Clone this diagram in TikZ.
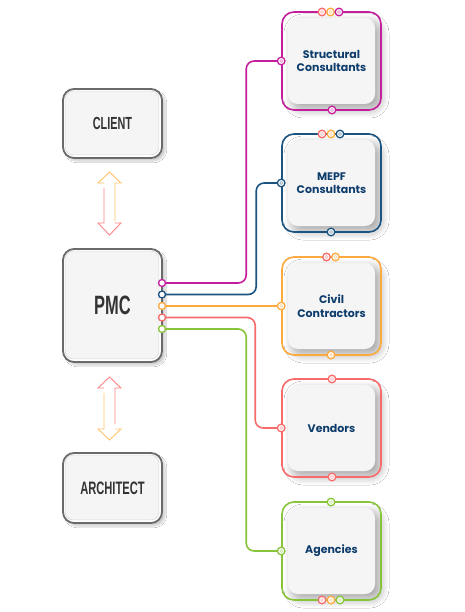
\documentclass[tikz,border=0pt]{standalone}
\usepackage{fontspec}
\usetikzlibrary{shadows.blur}
\newfontfamily\popfont{Poppins}[BoldFont={Poppins Bold}]
\newfontfamily\condfont{Liberation Sans}[FakeStretch=0.62]
\definecolor{cmag}{HTML}{C41E9C}
\definecolor{cblue}{HTML}{1B5381}
\definecolor{corg}{HTML}{FDA93E}
\definecolor{cred}{HTML}{F86B6B}
\definecolor{cgrn}{HTML}{88C43A}
\definecolor{navy}{HTML}{0E3D6C}
\definecolor{gline}{HTML}{6A6A6A}
\definecolor{boxbg}{HTML}{F5F5F5}
\definecolor{ltxt}{HTML}{333333}
\definecolor{aorg}{HTML}{FFC36E}
\definecolor{ared}{HTML}{FF8585}
\tikzset{
  rbox/.style={draw=#1, line width=1.6pt, rounded corners=12pt, minimum width=99pt, minimum height=98pt, inner sep=0pt},
  rin/.style={fill=boxbg, rounded corners=10pt, minimum width=87pt, minimum height=86pt, inner sep=0pt,
    blur shadow={shadow xshift=5pt, shadow yshift=-5pt, shadow opacity=38, shadow blur steps=20, shadow blur radius=9pt},
    align=center, font=\popfont\bfseries\fontsize{11}{13.5}\selectfont, text=navy},
  ring/.style={circle, draw=#1, line width=1.3pt, fill=white, minimum size=7.6pt, inner sep=0pt,
    path picture={\draw[#1!55, line width=0.6pt] (path picture bounding box.center) circle (1.5pt);}},
  pdot/.style={circle, draw=#1, line width=1.3pt, fill=white, minimum size=7pt, inner sep=0pt},
  link/.style={draw=#1, line width=1.6pt, rounded corners=8pt},
  lbox/.style={draw=gline, line width=1.8pt, fill=white, rounded corners=11pt, minimum width=99pt, inner sep=0pt,
    blur shadow={shadow xshift=3pt, shadow yshift=-3pt, shadow opacity=20, shadow blur steps=8}},
  ltext/.style={text=ltxt, font=\condfont\bfseries},
  arrowpart/.style={draw=#1, line width=0.9pt, line join=miter},
}
\begin{document}
\begin{tikzpicture}[x=1pt,y=-1pt]
\fill[white] (0,0) rectangle (464,612);
\useasboundingbox (0,0) rectangle (464,612);

% ---------- left boxes ----------
\node[lbox, minimum height=69pt] (client) at (112.5,123.5) {};
\node[lbox, minimum height=113pt] (pmc) at (112.5,305.5) {};
\node[lbox, minimum height=70pt] (arch) at (112.5,488) {};
\foreach \b in {client,pmc,arch}{
  \draw[fill=boxbg, draw=black!15, line width=0.6pt, rounded corners=8pt]
    ([xshift=3pt,yshift=-3pt]\b.north west) rectangle ([xshift=-4pt,yshift=4pt]\b.south east);
}
\node[ltext, font=\condfont\bfseries\fontsize{17.5}{20}\selectfont] at (client.center) {CLIENT};
\node[ltext, font=\condfont\bfseries\fontsize{26.5}{30}\selectfont] at (pmc.center) {PMC};
\node[ltext, font=\condfont\bfseries\fontsize{18}{20}\selectfont] at (arch.center) {ARCHITECT};

% ---------- double arrows ----------
\coordinate (a1) at (109.5,172);
\draw[arrowpart=aorg] (115,221) -- (115,183) -- (121,183) -- (a1) -- (98,183) -- (104,183);
\draw[arrowpart=ared] (104,188) -- (104,223) -- (98,223) -- (109.5,235) -- (121,223) -- (115,223);
\coordinate (a2) at (109.5,377);
\draw[arrowpart=ared] (115,424) -- (115,388) -- (121,388) -- (a2) -- (98,388) -- (104,388);
\draw[arrowpart=aorg] (104,393) -- (104,429) -- (98,429) -- (109.5,440) -- (121,429) -- (115,429);

% ---------- right boxes ----------
\node[rin] (t1) at (331.5,61) {Structural\\Consultants};
\node[rin] (t2) at (331.5,183) {MEPF\\Consultants};
\node[rin] (t3) at (331.5,306) {Civil\\Contractors};
\node[rin] (t4) at (331.5,428) {Vendors};
\node[rin] (t5) at (331.5,551) {Agencies};
\node[rbox=cmag] (s1) at (331.5,61) {};
\node[rbox=cblue] (s2) at (331.5,183) {};
\node[rbox=corg] (s3) at (331.5,306) {};
\node[rbox=cred] (s4) at (331.5,428) {};
\node[rbox=cgrn] (s5) at (331.5,551) {};

% ---------- PMC ports ----------
\coordinate (p1) at (162,283);
\coordinate (p2) at (162,294.5);
\coordinate (p3) at (162,306);
\coordinate (p4) at (162,317.5);
\coordinate (p5) at (162,329);

% ---------- connectors ----------
\draw[link=cmag] (p1) -| ([xshift=-35pt]s1.west) -- (s1.west);
\draw[link=cblue] (p2) -| ([xshift=-25pt]s2.west) -- (s2.west);
\draw[link=corg] (p3) -- (s3.west);
\draw[link=cred] (p4) -| ([xshift=-26pt]s4.west) -- (s4.west);
\draw[link=cgrn] (p5) -| ([xshift=-35pt]s5.west) -- (s5.west);

% ---------- port dots ----------
\node[pdot=cmag] (q1) at (p1) {};
\node[pdot=cblue] (q2) at (p2) {};
\node[pdot=corg] (q3) at (p3) {};
\node[pdot=cred] (q4) at (p4) {};
\node[pdot=cgrn] (q5) at (p5) {};

\node[ring=cmag] (w1) at (s1.west) {};
\node[ring=cblue] (w2) at (s2.west) {};
\node[ring=corg] (w3) at (s3.west) {};
\node[ring=cred] (w4) at (s4.west) {};
\node[ring=cgrn] (w5) at (s5.west) {};

% top / bottom dots
\node[ring=cred] at (322,12) {};
\node[ring=corg] at (330.5,12) {};
\node[ring=cmag] at (339,12) {};
\node[ring=cmag] at (332,110) {};

\node[ring=cred] at (322,134) {};
\node[ring=corg] at (331,134) {};
\node[ring=cblue] at (340,134) {};
\node[ring=cblue] at (331,232) {};

\node[ring=cred] at (326.5,257) {};
\node[ring=corg] at (335.5,257) {};
\node[ring=corg] at (331,355) {};

\node[ring=cred] at (332,379) {};
\node[ring=cred] at (332,477) {};

\node[ring=cgrn] at (331,502) {};
\node[ring=cred] at (322,600) {};
\node[ring=corg] at (331,600) {};
\node[ring=cgrn] at (340,600) {};
\end{tikzpicture}
\end{document}
